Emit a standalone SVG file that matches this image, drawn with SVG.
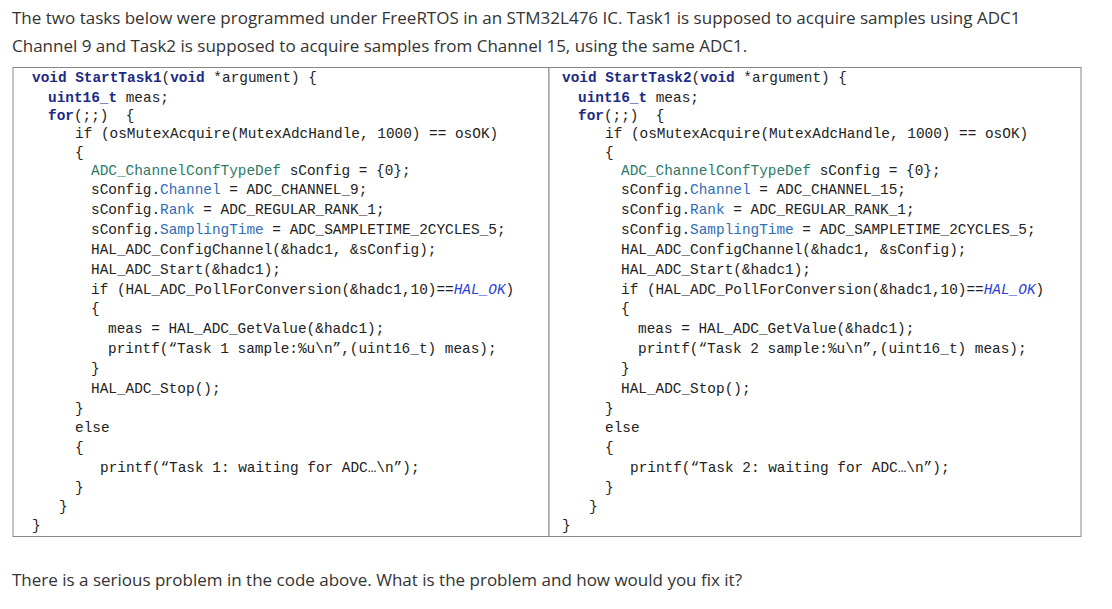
<svg xmlns="http://www.w3.org/2000/svg" width="1112" height="609" viewBox="0 0 1112 609">
<style>
.p{font-family:"Open Sans","Liberation Sans",sans-serif;font-size:17px;fill:#333}
.c{font-family:"Liberation Mono","DejaVu Sans Mono",monospace;font-size:14.4px;fill:#222;white-space:pre}
.k{fill:#1c2a86;font-weight:bold}
.t{fill:#2b7a6a}
.m{fill:#2e6db8}
.i{fill:#2b3fd6;font-style:italic}
.box{fill:#fff;stroke:#888;stroke-width:1}
</style>
<rect width="1112" height="609" fill="#fff"/>
<text class="p" x="12" y="24">The two tasks below were programmed under FreeRTOS in an STM32L476 IC. Task1 is supposed to acquire samples using ADC1</text>
<text class="p" x="12" y="52">Channel 9 and Task2 is supposed to acquire samples from Channel 15, using the same ADC1.</text>
<text class="p" x="12" y="586">There is a serious problem in the code above. What is the problem and how would you fix it?</text>
<g id="task1">
<rect class="box" x="13" y="67.5" width="536" height="469"/>
<text class="c" x="32" y="82"><tspan class="k">void</tspan> <tspan class="k">StartTask1</tspan>(<tspan class="k">void</tspan> *argument) {</text>
<text class="c" x="48" y="101.5"><tspan class="k">uint16_t</tspan> meas;</text>
<text class="c" x="48" y="120"><tspan class="k">for</tspan>(;;)  {</text>
<text class="c" x="75" y="138">if (osMutexAcquire(MutexAdcHandle, 1000) == osOK)</text>
<text class="c" x="75" y="157">{</text>
<text class="c" x="91" y="175"><tspan class="t">ADC_ChannelConfTypeDef</tspan> sConfig = {0};</text>
<text class="c" x="91" y="194">sConfig.<tspan class="m">Channel</tspan> = ADC_CHANNEL_9;</text>
<text class="c" x="91" y="214">sConfig.<tspan class="m">Rank</tspan> = ADC_REGULAR_RANK_1;</text>
<text class="c" x="91" y="234">sConfig.<tspan class="m">SamplingTime</tspan> = ADC_SAMPLETIME_2CYCLES_5;</text>
<text class="c" x="91" y="254">HAL_ADC_ConfigChannel(&amp;hadc1, &amp;sConfig);</text>
<text class="c" x="91" y="274">HAL_ADC_Start(&amp;hadc1);</text>
<text class="c" x="91" y="294">if (HAL_ADC_PollForConversion(&amp;hadc1,10)==<tspan class="i">HAL_OK</tspan>)</text>
<text class="c" x="91" y="313">{</text>
<text class="c" x="108" y="333">meas = HAL_ADC_GetValue(&amp;hadc1);</text>
<text class="c" x="108" y="353">printf(“Task 1 sample:%u\n”,(uint16_t) meas);</text>
<text class="c" x="91" y="373">}</text>
<text class="c" x="91" y="393">HAL_ADC_Stop();</text>
<text class="c" x="75" y="413">}</text>
<text class="c" x="75" y="432">else</text>
<text class="c" x="75" y="452">{</text>
<text class="c" x="100" y="472">printf(“Task 1: waiting for ADC…\n”);</text>
<text class="c" x="75" y="492">}</text>
<text class="c" x="59" y="511">}</text>
<text class="c" x="32" y="530">}</text>
</g>
<g id="task2">
<rect class="box" x="549" y="67.5" width="532" height="469"/>
<text class="c" x="562" y="82"><tspan class="k">void</tspan> <tspan class="k">StartTask2</tspan>(<tspan class="k">void</tspan> *argument) {</text>
<text class="c" x="578" y="101.5"><tspan class="k">uint16_t</tspan> meas;</text>
<text class="c" x="578" y="120"><tspan class="k">for</tspan>(;;)  {</text>
<text class="c" x="605" y="138">if (osMutexAcquire(MutexAdcHandle, 1000) == osOK)</text>
<text class="c" x="605" y="157">{</text>
<text class="c" x="621" y="175"><tspan class="t">ADC_ChannelConfTypeDef</tspan> sConfig = {0};</text>
<text class="c" x="621" y="194">sConfig.<tspan class="m">Channel</tspan> = ADC_CHANNEL_15;</text>
<text class="c" x="621" y="214">sConfig.<tspan class="m">Rank</tspan> = ADC_REGULAR_RANK_1;</text>
<text class="c" x="621" y="234">sConfig.<tspan class="m">SamplingTime</tspan> = ADC_SAMPLETIME_2CYCLES_5;</text>
<text class="c" x="621" y="254">HAL_ADC_ConfigChannel(&amp;hadc1, &amp;sConfig);</text>
<text class="c" x="621" y="274">HAL_ADC_Start(&amp;hadc1);</text>
<text class="c" x="621" y="294">if (HAL_ADC_PollForConversion(&amp;hadc1,10)==<tspan class="i">HAL_OK</tspan>)</text>
<text class="c" x="621" y="313">{</text>
<text class="c" x="638" y="333">meas = HAL_ADC_GetValue(&amp;hadc1);</text>
<text class="c" x="638" y="353">printf(“Task 2 sample:%u\n”,(uint16_t) meas);</text>
<text class="c" x="621" y="373">}</text>
<text class="c" x="621" y="393">HAL_ADC_Stop();</text>
<text class="c" x="605" y="413">}</text>
<text class="c" x="605" y="432">else</text>
<text class="c" x="605" y="452">{</text>
<text class="c" x="630" y="472">printf(“Task 2: waiting for ADC…\n”);</text>
<text class="c" x="605" y="492">}</text>
<text class="c" x="589" y="511">}</text>
<text class="c" x="562" y="530">}</text>
</g>
<g id="connectors"/>
</svg>
